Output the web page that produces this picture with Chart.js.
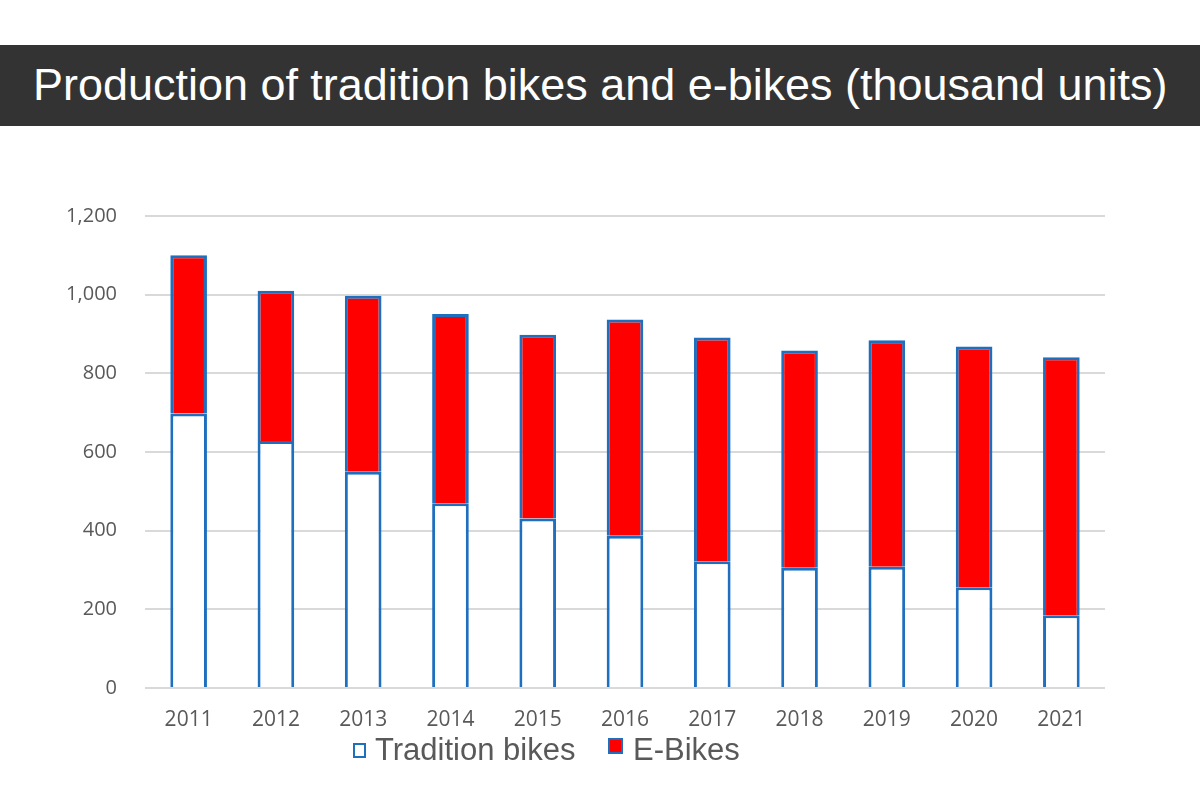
<!DOCTYPE html>
<html>
<head>
<meta charset="utf-8">
<script src="https://cdn.jsdelivr.net/npm/chart.js@4/dist/chart.umd.min.js"></script>
<style>
  html, body { margin: 0; padding: 0; background: #fff; }
  body { width: 1200px; height: 800px; position: relative; overflow: hidden; font-family: "Liberation Sans", Arial, sans-serif; }
  #title { position: absolute; left: 0; top: 45px; width: 1200px; height: 81px; background: #333333; }
  #title span { position: absolute; left: 33px; top: 12px; color: #fff; font-size: 44px; line-height: 56px; white-space: nowrap; transform-origin: 0 50%; }
  #wrap { position: absolute; left: 0; top: 127px; width: 1200px; height: 673px; }
  .lg { position: absolute; color: #595959; font-size: 31px; line-height: 34px; white-space: nowrap; }
  .box { position: absolute; box-sizing: border-box; border: 2.5px solid #1f6fbf; }
</style>
</head>
<body>
<div id="title"><span>Production of tradition bikes and e-bikes (thousand units)</span></div>
<div id="wrap"><canvas id="bikes"></canvas></div>
<div id="legend"></div>
<script>
var years = ["2011", "2012", "2013", "2014", "2015", "2016", "2017", "2018", "2019", "2020", "2021"];
var traditionBikes = [698, 628, 550, 470, 431, 387, 322, 306, 308, 256, 185];
var eBikes = [402, 382, 447, 481, 467, 550, 569, 552, 576, 612, 656];

// squeeze the title to the width it has in the picture
var t = document.querySelector("#title span");
t.style.transform = "scaleX(" + (1134 / t.offsetWidth) + ")";

var ctx = document.getElementById("bikes");

var chart = new Chart(ctx, {
  type: "bar",
  data: {
    labels: years,
    datasets: [
      {
        label: "Tradition bikes",
        data: traditionBikes,
        backgroundColor: "#ffffff",
        borderColor: "#1f6fbf",
        borderWidth: 3
      },
      {
        label: "E-Bikes",
        data: eBikes,
        backgroundColor: "#ff0000",
        borderColor: "#1f6fbf",
        borderWidth: 3
      }
    ]
  },
  options: {
    responsive: true,
    maintainAspectRatio: false,
    animation: false,
    layout: { padding: { top: 89, right: 95, bottom: 0, left: 0 } },
    datasets: { bar: { barPercentage: 0.42, categoryPercentage: 1 } },
    plugins: {
      legend: { display: false },
      tooltip: { enabled: false }
    },
    scales: {
      x: {
        stacked: true,
        grid: { display: false },
        border: { display: false },
        ticks: { color: "#595959", font: { family: "'Open Sans', sans-serif", size: 21 }, padding: 11 },
        afterFit: function(s) { s.height = 112; }
      },
      y: {
        stacked: true,
        min: 0,
        max: 1200,
        grid: { color: "#d9d9d9", lineWidth: 2, drawTicks: false },
        border: { display: false },
        ticks: { stepSize: 200, color: "#595959", font: { family: "'Open Sans', sans-serif", size: 20 }, padding: 28 },
        afterFit: function(s) { s.width = 145; }
      }
    }
  }
});

// legend drawn as html under the axis
var spots = [
  { box: [353, 743, 13, 15], text: [375, 733] },
  { box: [608, 738, 15, 16], text: [633, 733] }
];
var legend = document.getElementById("legend");
chart.data.datasets.forEach(function(ds, i) {
  var p = spots[i];
  var b = document.createElement("div");
  b.className = "box";
  b.style.left = p.box[0] + "px"; b.style.top = p.box[1] + "px";
  b.style.width = p.box[2] + "px"; b.style.height = p.box[3] + "px";
  b.style.background = ds.backgroundColor;
  legend.appendChild(b);
  var s = document.createElement("div");
  s.className = "lg";
  s.style.left = p.text[0] + "px"; s.style.top = p.text[1] + "px";
  s.textContent = ds.label;
  legend.appendChild(s);
});
</script>
</body>
</html>
